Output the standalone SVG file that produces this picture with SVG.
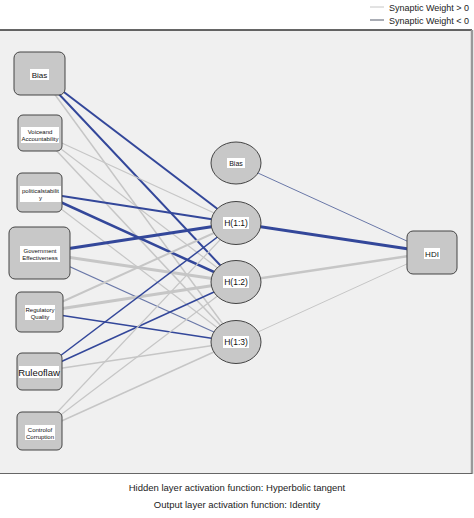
<svg xmlns="http://www.w3.org/2000/svg" width="474" height="518" viewBox="0 0 474 518">
<style>
text{font-family:"Liberation Sans",Arial,sans-serif;fill:#111;text-anchor:middle}
.node{fill:#c8c8c8;stroke:#444;stroke-width:1}
.lb{fill:#fff}
.pos{stroke:#c6c6c6;fill:none}
.neg{stroke:#33479a;fill:none}
.negl{stroke:#6a78a8;fill:none}
.leg{font-size:9px;text-anchor:start;fill:#222}
.foot{font-size:9.5px;fill:#222}
</style>
<rect x="0" y="0" width="474" height="518" fill="#fff"/>
<g id="legend">
<line x1="370" y1="7" x2="384" y2="7" stroke="#c6c6c6" stroke-width="1"/>
<line x1="370" y1="20" x2="384" y2="20" stroke="#555b6a" stroke-width="1"/>
<text class="leg" x="389" y="11">Synaptic Weight &gt; 0</text>
<text class="leg" x="389" y="24">Synaptic Weight &lt; 0</text>
</g>
<g id="panel">
<rect x="0" y="30" width="472" height="443" fill="#f0f0f0"/>
<line x1="0" y1="30" x2="472" y2="30" stroke="#333" stroke-width="1.5"/>
<line x1="472" y1="30" x2="472" y2="474" stroke="#999" stroke-width="2.5"/>
<line x1="0" y1="473.5" x2="472" y2="473.5" stroke="#666" stroke-width="1"/>
</g>
<g id="connectors">
<line class="neg" x1="39.5" y1="73.5" x2="236" y2="223" stroke-width="2"/>
<line class="neg" x1="39.5" y1="73.5" x2="236" y2="282" stroke-width="2"/>
<line class="pos" x1="39.5" y1="73.5" x2="236" y2="342" stroke-width="1.5"/>
<line class="pos" x1="40" y1="133" x2="236" y2="223" stroke-width="1.2"/>
<line class="pos" x1="40" y1="133" x2="236" y2="282" stroke-width="1.2"/>
<line class="pos" x1="40" y1="133" x2="236" y2="342" stroke-width="1.5"/>
<line class="neg" x1="39.5" y1="192.5" x2="236" y2="223" stroke-width="2"/>
<line class="neg" x1="39.5" y1="192.5" x2="236" y2="282" stroke-width="2.5"/>
<line class="pos" x1="39.5" y1="192.5" x2="236" y2="342" stroke-width="1.2"/>
<line class="neg" x1="39.5" y1="253" x2="236" y2="223" stroke-width="3"/>
<line class="pos" x1="39.5" y1="253" x2="236" y2="282" stroke-width="3"/>
<line class="negl" x1="39.5" y1="253" x2="236" y2="342" stroke-width="1.2"/>
<line class="pos" x1="39.5" y1="312" x2="236" y2="223" stroke-width="2"/>
<line class="pos" x1="39.5" y1="312" x2="236" y2="282" stroke-width="3"/>
<line class="neg" x1="39.5" y1="312" x2="236" y2="342" stroke-width="1.5"/>
<line class="neg" x1="39.5" y1="371.5" x2="236" y2="223" stroke-width="1.5"/>
<line class="neg" x1="39.5" y1="371.5" x2="236" y2="282" stroke-width="1.5"/>
<line class="pos" x1="39.5" y1="371.5" x2="236" y2="342" stroke-width="1.5"/>
<line class="pos" x1="39.5" y1="431" x2="236" y2="223" stroke-width="1.2"/>
<line class="pos" x1="39.5" y1="431" x2="236" y2="282" stroke-width="1.2"/>
<line class="pos" x1="39.5" y1="431" x2="236" y2="342" stroke-width="1.5"/>
<line class="negl" x1="236" y1="163" x2="432" y2="252.5" stroke-width="1"/>
<line class="neg" x1="236" y1="223" x2="432" y2="252.5" stroke-width="3"/>
<line class="pos" x1="236" y1="282" x2="432" y2="252.5" stroke-width="2.5"/>
<line class="pos" x1="236" y1="342" x2="432" y2="252.5" stroke-width="1"/>
</g>
<g id="in_bias">
<rect class="node" x="14" y="52" width="51" height="43" rx="6"/>
<rect class="lb" x="30" y="69" width="19" height="11"/>
<text x="39.5" y="77.5" font-size="8">Bias</text>
</g>
<g id="in_va">
<rect class="node" x="18" y="115" width="44" height="36" rx="5"/>
<rect class="lb" x="21" y="127" width="38" height="16"/>
<text x="40" y="134" font-size="6">Voiceand</text>
<text x="40" y="141" font-size="6">Accountability</text>
</g>
<g id="in_ps">
<rect class="node" x="17" y="173" width="45" height="39" rx="5"/>
<rect class="lb" x="20" y="186" width="41" height="16"/>
<text x="40.5" y="193" font-size="6">politicalstabilit</text>
<text x="40.5" y="200" font-size="6">y</text>
</g>
<g id="in_ge">
<rect class="node" x="9" y="227" width="61" height="52" rx="6"/>
<rect class="lb" x="20" y="246" width="40" height="16"/>
<text x="40" y="253" font-size="6">Government</text>
<text x="40" y="260" font-size="6">Effectiveness</text>
</g>
<g id="in_rq">
<rect class="node" x="16" y="292" width="47" height="40" rx="5"/>
<rect class="lb" x="25" y="305" width="30" height="15"/>
<text x="40" y="311.5" font-size="6">Regulatory</text>
<text x="40" y="318.5" font-size="6">Quality</text>
</g>
<g id="in_rol">
<rect class="node" x="17" y="353" width="45" height="37" rx="5"/>
<rect class="lb" x="19" y="366" width="40" height="12"/>
<text x="39" y="375.5" font-size="9.5">Ruleoflaw</text>
</g>
<g id="in_cc">
<rect class="node" x="17" y="412" width="45" height="38" rx="5"/>
<rect class="lb" x="25" y="425" width="30" height="15"/>
<text x="40" y="431.5" font-size="6">Controlof</text>
<text x="40" y="438.5" font-size="6">Corruption</text>
</g>
<g id="h_bias">
<ellipse class="node" cx="236" cy="163" rx="25" ry="21"/>
<rect class="lb" x="227" y="158" width="18" height="10"/>
<text x="236" y="166" font-size="7">Bias</text>
</g>
<g id="h11">
<ellipse class="node" cx="236" cy="223" rx="25" ry="21.5"/>
<rect class="lb" x="223" y="217" width="26" height="12"/>
<text x="236" y="226" font-size="8.5">H(1:1)</text>
</g>
<g id="h12">
<ellipse class="node" cx="236" cy="282" rx="25" ry="21.5"/>
<rect class="lb" x="223" y="276" width="26" height="12"/>
<text x="236" y="285" font-size="8.5">H(1:2)</text>
</g>
<g id="h13">
<ellipse class="node" cx="236" cy="342" rx="25" ry="21.5"/>
<rect class="lb" x="223" y="336" width="26" height="12"/>
<text x="236" y="345" font-size="8.5">H(1:3)</text>
</g>
<g id="out_hdi">
<rect class="node" x="407" y="231" width="50" height="43" rx="6"/>
<rect class="lb" x="424" y="248" width="16" height="11"/>
<text x="432" y="256.5" font-size="8">HDI</text>
</g>
<g id="footer">
<text class="foot" x="237" y="491">Hidden layer activation function: Hyperbolic tangent</text>
<text class="foot" x="237" y="508">Output layer activation function: Identity</text>
</g>
</svg>
